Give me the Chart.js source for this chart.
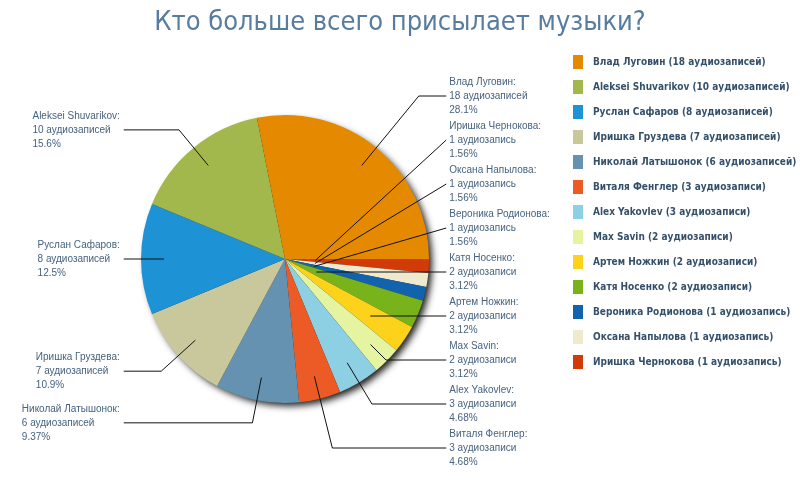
<!DOCTYPE html>
<html lang="ru">
<head>
<meta charset="utf-8">
<title>Кто больше всего присылает музыки?</title>
<script src="https://cdn.jsdelivr.net/npm/chart.js@4.4.1/dist/chart.umd.min.js"></script>
<style>
  html, body { margin: 0; padding: 0; background: #fff; }
  #wrap { width: 800px; height: 500px; }
</style>
</head>
<body>
<div id="wrap"><canvas id="pie" width="800" height="500"></canvas></div>
<script>
// ---------- Data (slice order: clockwise from 3 o'clock) ----------
const chartTitle = 'Кто больше всего присылает музыки?';
const people = ['Иришка Чернокова', 'Оксана Напылова', 'Вероника Родионова', 'Катя Носенко',
  'Артем Ножкин', 'Max Savin', 'Alex Yakovlev', 'Виталя Фенглер', 'Николай Латышонок',
  'Иришка Груздева', 'Руслан Сафаров', 'Aleksei Shuvarikov', 'Влад Луговин'];
const tracks = [1, 1, 1, 2, 2, 2, 3, 3, 6, 7, 8, 10, 18];
const sliceColors = ['#d03b09', '#efe9cd', '#1263ae', '#79b31c', '#fcd21b', '#e5f4a0',
  '#8dcfe3', '#ec5b25', '#6592b1', '#c9c89c', '#1d93d6', '#a3b84c', '#e58a00'];

const total = tracks.reduce((a, b) => a + b, 0);

// ---------- Helpers ----------
function recordsWord(n) {
  const m10 = n % 10, m100 = n % 100;
  if (m10 === 1 && m100 !== 11) return 'аудиозапись';
  if (m10 >= 2 && m10 <= 4 && (m100 < 12 || m100 > 14)) return 'аудиозаписи';
  return 'аудиозаписей';
}

// 3 significant digits, cut (not rounded) like the original: 4.6875 -> 4.68
function pct(n) {
  const p = n / total * 100;
  const dec = Math.max(0, 3 - (Math.floor(Math.log10(p)) + 1));
  const f = Math.pow(10, dec);
  return (Math.floor(p * f + 1e-9) / f).toFixed(dec) + '%';
}

const labelFont = "10px 'Liberation Sans', Arial, sans-serif";
const legendFont = "bold 10px 'DejaVu Sans Condensed', 'DejaVu Sans', sans-serif";
const titleFont = "27px 'Liberation Sans Narrow', 'DejaVu Sans Condensed', sans-serif";

// ---------- Decorations: shadow, title, callout labels, legend ----------
const pieDecor = {
  id: 'pieDecor',
  beforeDatasetsDraw(chart) {
    const a = chart.getDatasetMeta(0).data[0];
    const ctx = chart.ctx;
    ctx.save();
    ctx.shadowColor = 'rgba(0,0,0,0.9)';
    ctx.shadowBlur = 7;
    ctx.shadowOffsetX = 4;
    ctx.shadowOffsetY = 4;
    ctx.fillStyle = '#222';
    ctx.beginPath();
    ctx.arc(a.x, a.y, a.outerRadius - 1, 0, Math.PI * 2);
    ctx.fill();
    ctx.restore();
  },
  afterDraw(chart) {
    const ctx = chart.ctx;

    // title
    ctx.save();
    ctx.font = titleFont;
    ctx.fillStyle = '#587c9f';
    ctx.textAlign = 'center';
    ctx.textBaseline = 'middle';
    ctx.fillText(chartTitle, chart.width / 2, 23);
    ctx.restore();

    drawCallouts(chart);
    drawLegend(chart);
  }
};

function drawCallouts(chart) {
  const ctx = chart.ctx;
  const arcs = chart.getDatasetMeta(0).data;
  const cx = arcs[0].x, cy = arcs[0].y, r = arcs[0].outerRadius;
  const gap = 44, lineH = 14;
  const bottomLimit = chart.height - 52;

  const items = arcs.map((a, i) => {
    const mid = (a.startAngle + a.endAngle) / 2;
    return { i, mid, right: Math.cos(mid) >= 0, y: cy + Math.sin(mid) * r * 1.16 };
  });

  // push labels apart on each side
  [true, false].forEach(side => {
    const list = items.filter(o => o.right === side).sort((a, b) => a.y - b.y);
    for (let k = 1; k < list.length; k++) list[k].y = Math.max(list[k].y, list[k - 1].y + gap);
    if (list.length && list[list.length - 1].y > bottomLimit) {
      list[list.length - 1].y = bottomLimit;
      for (let k = list.length - 2; k >= 0; k--) list[k].y = Math.min(list[k].y, list[k + 1].y - gap);
    }
  });

  ctx.save();
  ctx.font = labelFont;
  ctx.textBaseline = 'middle';
  items.forEach(o => {
    const s = Math.sin(o.mid), c = Math.cos(o.mid);
    const endX = o.right ? cx + r * 1.12 : cx - r * 1.12;
    const dy = o.y - cy;
    let pts;
    if (Math.abs(dy) < 1) {
      pts = [[cx + c * r * 0.84, cy + s * r * 0.84], [endX, o.y]];
    } else {
      const d = dy / s;
      if (d > 0 && isFinite(d)) {
        const a = Math.min(d, r * 0.84);
        pts = [[cx + c * a, cy + s * a], [cx + c * d, o.y], [endX, o.y]];
      } else {
        pts = [[cx + c * r * 0.21, cy + s * r * 0.21], [endX, o.y]];
      }
    }
    ctx.strokeStyle = '#111';
    ctx.lineWidth = 1;
    ctx.beginPath();
    ctx.moveTo(pts[0][0], pts[0][1]);
    for (let k = 1; k < pts.length; k++) ctx.lineTo(pts[k][0], pts[k][1]);
    ctx.stroke();

    const n = tracks[o.i];
    const lines = [people[o.i] + ':', n + ' ' + recordsWord(n), pct(n)];
    let tx;
    if (o.right) {
      tx = endX + 3;
    } else {
      const w = Math.max(...lines.map(t => ctx.measureText(t).width));
      tx = endX - 4 - w;
    }
    ctx.fillStyle = '#46627f';
    ctx.textAlign = 'left';
    lines.forEach((t, k) => ctx.fillText(t, tx, o.y + (k - 1) * lineH));
  });
  ctx.restore();
}

function drawLegend(chart) {
  const ctx = chart.ctx;
  const ds = chart.data.datasets[0];
  const order = chart.data.labels.map((_, i) => i).reverse();
  ctx.save();
  ctx.font = legendFont;
  ctx.textBaseline = 'middle';
  ctx.textAlign = 'left';
  order.forEach((i, row) => {
    const y = 62 + row * 25;
    ctx.fillStyle = ds.backgroundColor[i];
    ctx.fillRect(573, y - 7, 10, 14);
    ctx.fillStyle = '#35506b';
    ctx.fillText(chart.data.labels[i] + ' (' + ds.data[i] + ' ' + recordsWord(ds.data[i]) + ')', 593, y);
  });
  ctx.restore();
}

// ---------- Chart ----------
new Chart(document.getElementById('pie').getContext('2d'), {
  type: 'pie',
  data: {
    labels: people,
    datasets: [{ data: tracks, backgroundColor: sliceColors, borderWidth: 0 }]
  },
  options: {
    responsive: false,
    animation: false,
    rotation: 90,
    layout: { padding: { left: 141, right: 371, top: 115, bottom: 97 } },
    plugins: { legend: { display: false }, tooltip: { enabled: false }, title: { display: false } }
  },
  plugins: [pieDecor]
});
</script>
</body>
</html>
